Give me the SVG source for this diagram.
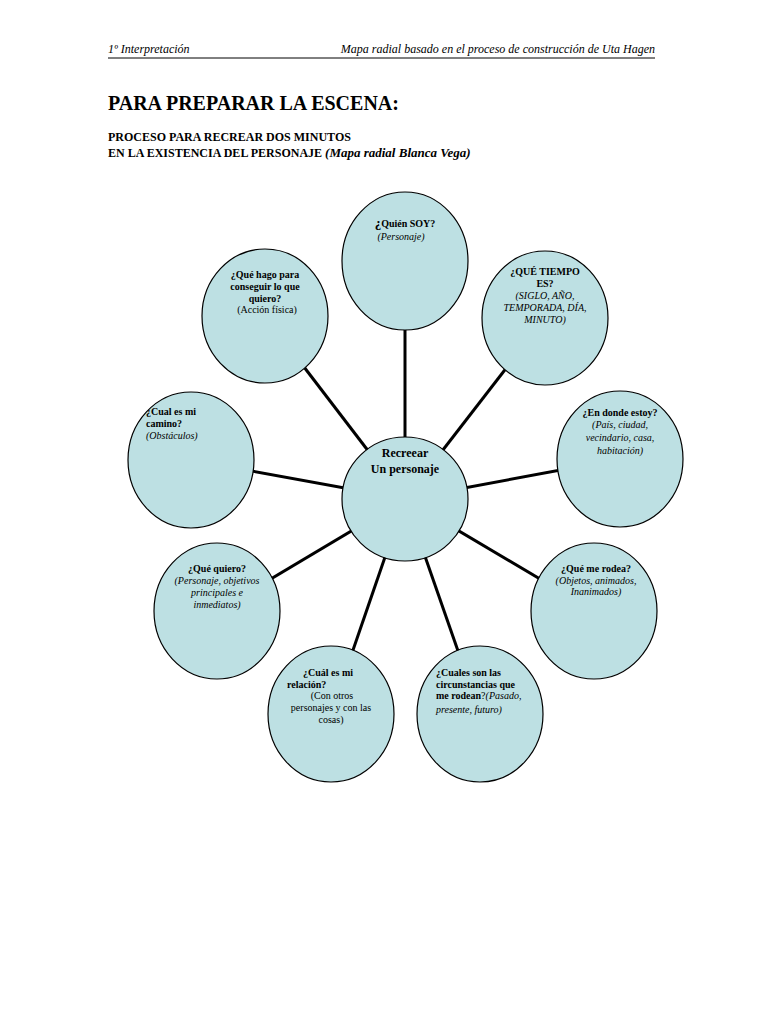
<svg xmlns="http://www.w3.org/2000/svg" width="768" height="1024" viewBox="0 0 768 1024">
<style>
text{font-family:"Liberation Serif","Times New Roman",serif;fill:#000}
.n{fill:#bde0e3;stroke:#000;stroke-width:1.2}
.t{font-size:10px;text-anchor:middle}
.l{font-size:10px}
.b{font-weight:bold}
.i{font-style:italic}
.c line{stroke:#000;stroke-width:3}
</style>
<rect width="768" height="1024" fill="#fff"/>
<text x="108" y="53" font-size="12" font-style="italic">1º Interpretación</text>
<text x="655" y="53" font-size="12" font-style="italic" text-anchor="end">Mapa radial basado en el proceso de construcción  de Uta Hagen</text>
<line x1="108" y1="58" x2="655" y2="58" stroke="#000" stroke-width="1"/>
<text x="108" y="110" font-size="20" font-weight="bold">PARA PREPARAR LA ESCENA:</text>
<text x="108" y="141" font-size="12" font-weight="bold">PROCESO PARA RECREAR DOS MINUTOS</text>
<text x="108" y="157" font-size="12" font-weight="bold">EN LA EXISTENCIA DEL PERSONAJE <tspan font-style="italic" font-size="13">(Mapa radial Blanca Vega)</tspan></text>
<g class="c">
<line x1="405" y1="499" x2="405" y2="261"/>
<line x1="405" y1="499" x2="265" y2="316"/>
<line x1="405" y1="499" x2="545" y2="318"/>
<line x1="405" y1="499" x2="191" y2="460"/>
<line x1="405" y1="499" x2="620" y2="459"/>
<line x1="405" y1="499" x2="217" y2="611"/>
<line x1="405" y1="499" x2="594" y2="611"/>
<line x1="405" y1="499" x2="331" y2="714"/>
<line x1="405" y1="499" x2="480" y2="714"/>
</g>
<g id="quien"><ellipse class="n" cx="405" cy="261" rx="63" ry="69"/>
<text class="t b" x="405" y="227"><tspan font-size="13">¿</tspan>Quién SOY?</text><text class="t i" x="401" y="240">(Personaje)</text></g>
<g id="quehago"><ellipse class="n" cx="265" cy="316" rx="63" ry="67"/>
<text class="t b" x="265" y="278">¿Qué hago para</text><text class="t b" x="265" y="290">conseguir lo que</text><text class="t b" x="265" y="302">quiero?</text><text class="t" x="267" y="313">(Acción física)</text></g>
<g id="tiempo"><ellipse class="n" cx="545" cy="318" rx="63" ry="67"/>
<text class="t b" x="545" y="275">¿QUÉ TIEMPO</text><text class="t b" x="545" y="287">ES?</text><text class="t i" x="545" y="299">(SIGLO, AÑO,</text><text class="t i" x="545" y="311">TEMPORADA, DÍA,</text><text class="t i" x="545" y="323">MINUTO)</text></g>
<g id="camino"><ellipse class="n" cx="191" cy="460" rx="63" ry="68"/>
<text class="l b" x="146" y="415">¿Cual es mi</text><text class="l b" x="146" y="427">camino?</text><text class="l i" x="146" y="439">(Obstáculos)</text></g>
<g id="donde"><ellipse class="n" cx="620" cy="459" rx="63" ry="68"/>
<text class="t b" x="620" y="416">¿En donde estoy?</text><text class="t i" x="620" y="428">(País, ciudad,</text><text class="t i" x="620" y="441">vecindario, casa,</text><text class="t i" x="620" y="454">habitación)</text></g>
<g id="centro"><ellipse class="n" cx="405" cy="499" rx="63" ry="62"/>
<text x="405" y="457" font-size="12" font-weight="bold" text-anchor="middle">Recreear</text><text x="405" y="473" font-size="12" font-weight="bold" text-anchor="middle">Un personaje</text></g>
<g id="quiero"><ellipse class="n" cx="217" cy="611" rx="63" ry="68"/>
<text class="t b" x="217" y="572">¿Qué quiero?</text><text class="t i" x="217" y="584">(Personaje, objetivos</text><text class="t i" x="217" y="596">principales e</text><text class="t i" x="217" y="608">inmediatos)</text></g>
<g id="rodea"><ellipse class="n" cx="594" cy="611" rx="63" ry="68"/>
<text class="t b" x="596" y="572">¿Qué me rodea?</text><text class="t i" x="596" y="584">(Objetos, animados,</text><text class="t i" x="596" y="595">Inanimados)</text></g>
<g id="relacion"><ellipse class="n" cx="331" cy="714" rx="63" ry="68"/>
<text class="t b" x="328" y="676">¿Cuál es mi</text><text class="l b" x="287" y="688">relación?</text><text class="t" x="332" y="699">(Con otros</text><text class="t" x="331" y="711">personajes y con las</text><text class="t" x="331" y="723">cosas)</text></g>
<g id="circunstancias"><ellipse class="n" cx="480" cy="714" rx="63" ry="68"/>
<text class="l b" x="436" y="676">¿Cuales son las</text><text class="l b" x="436" y="688">circunstancias que</text><text class="l" x="436" y="699"><tspan font-weight="bold">me rodean</tspan>?<tspan font-style="italic">(Pasado,</tspan></text><text class="l i" x="436" y="713">presente, futuro)</text></g>
</svg>
